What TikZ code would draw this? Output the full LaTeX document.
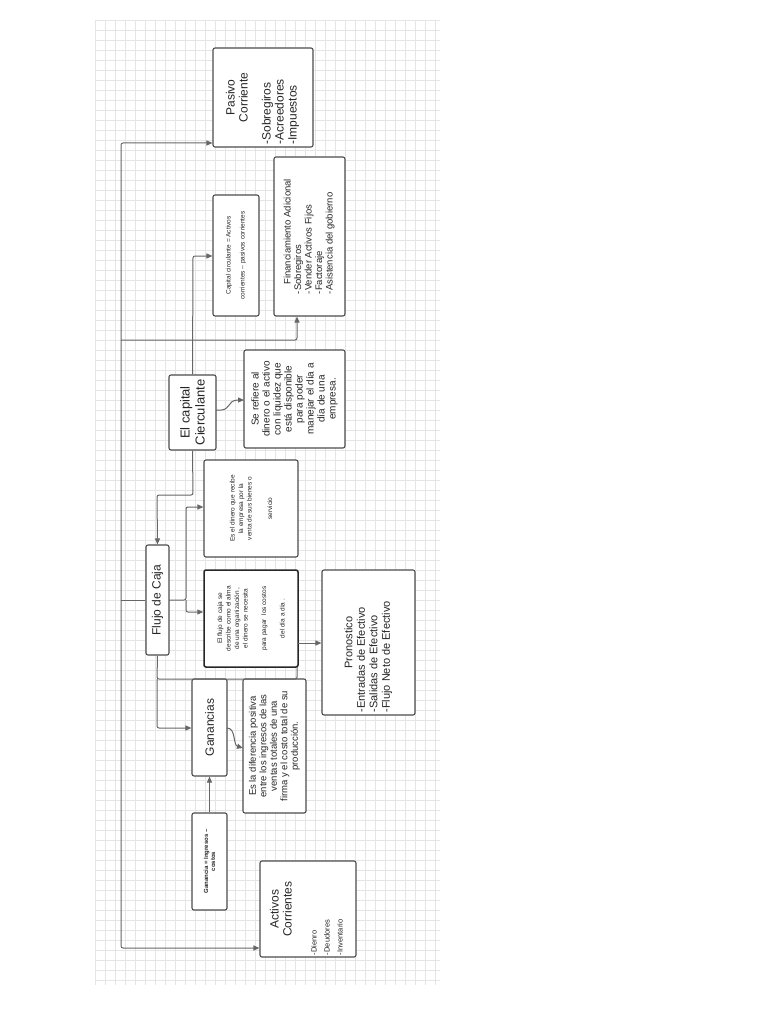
\documentclass[tikz,border=0pt]{standalone}
\usepackage{fontspec}
\setmainfont{Liberation Sans}
\usetikzlibrary{arrows.meta}
\begin{document}
\begin{tikzpicture}[x=1pt,y=-1pt,
  box/.style={draw=black!70,line width=1.1pt,rounded corners=2pt,rotate=90,inner sep=1pt,align=center,fill=white,text=black!85},
  con/.style={draw=black!60,line width=1pt,-{Triangle[length=6pt,width=5pt]}},
  ln/.style={draw=black!60,line width=1pt}]
\fill[white] (0,0) rectangle (768,1024);
\foreach \x in {95,105,...,435} \draw[black!10,line width=0.4pt] (\x,20) -- (\x,985);
\foreach \y in {20,30,...,980} \draw[black!10,line width=0.4pt] (95,\y) -- (440,\y);
\useasboundingbox (0,0) rectangle (768,1024);
% nodes
\node[box,minimum width=99,minimum height=100,font=\fontsize{12}{13}\selectfont] (pas) at (263,97.5)
 {\begin{tabular}{@{}p{94pt}@{}}\multicolumn{1}{@{}c@{}}{Pasivo}\\\multicolumn{1}{@{}c@{}}{Corriente}\\[10pt]-Sobregiros\\-Acreedores\\-Impuestos\end{tabular}};
\node[box,minimum width=121,minimum height=46,font=\fontsize{6.5}{14}\selectfont] (cc) at (236,255.5)
 {Capital circulante = Activos\\corrientes -- pasivos corrientes};
\node[box,minimum width=159,minimum height=71,font=\fontsize{9.5}{10.5}\selectfont] (fin) at (309.5,236.5)
 {\begin{tabular}{@{}l@{}}\quad Financiamiento Adicional\\-Sobregiros\\-Vender Activos Fijos\\-Factoraje\\-Asistencia del gobierno\end{tabular}};
\node[box,minimum width=75,minimum height=47,font=\fontsize{13}{15}\selectfont] (ec) at (192.5,412.5)
 {El capital\\Cierculante};
\node[box,minimum width=98,minimum height=101,font=\fontsize{10}{11}\selectfont] (sr) at (294.5,399)
 {Se refiere al\\dinero o el activo\\con liquidez que\\está disponible\\para poder\\manejar el día a\\día de una\\empresa.};
\node[box,minimum width=97,minimum height=94,font=\fontsize{6.5}{8.5}\selectfont] (ed) at (251,508.5)
 {Es el dinero que recibe\\la empresa por la\\venta de sus bienes o\\[12pt]servicio};
\node[box,minimum width=110,minimum height=23,font=\fontsize{12}{13}\selectfont] (fc) at (157.5,600)
 {Flujo de Caja};
\node[box,line width=1.5pt,draw=black!85,minimum width=97,minimum height=94,font=\fontsize{6.5}{8.5}\selectfont] (ef) at (251,618.5)
 {El flujo de caja se\\describe como el alma\\de una organización ,\\el dinero se necesita\\[10pt]para pagar~ los costos\\[10pt]del día a día .};
\node[box,minimum width=145,minimum height=93,font=\fontsize{11}{12.5}\selectfont] (pr) at (368.5,642.5)
 {\begin{tabular}{@{}p{140pt}@{}}\multicolumn{1}{@{}c@{}}{Pronostico}\\-Entradas de Efectivo\\-Salidas de Efectivo\\-Flujo Neto de Efectivo\end{tabular}};
\node[box,minimum width=97,minimum height=35,font=\fontsize{12}{13}\selectfont] (ga) at (209.5,727.5)
 {Ganancias};
\node[box,minimum width=134,minimum height=63,font=\fontsize{9.5}{10.5}\selectfont] (dif) at (274.5,746)
 {Es la diferencia positiva\\entre los ingresos de las\\ventas totales de una\\firma y el costo total de su\\producción.};
\node[box,minimum width=97,minimum height=35,font=\bfseries\fontsize{6}{7}\selectfont] (geq) at (209.5,861.5)
 {Ganancia = Ingresos --\\costos};
\node[box,minimum width=96,minimum height=96,font=\fontsize{12}{13}\selectfont] (ac) at (308,909)
 {\begin{tabular}{@{}p{92pt}@{}}\multicolumn{1}{@{}c@{}}{Activos}\\\multicolumn{1}{@{}c@{}}{Corrientes}\\[12pt]\fontsize{7.5}{8.5}\selectfont -Dienro\\\fontsize{7.5}{8.5}\selectfont -Deudores\\\fontsize{7.5}{8.5}\selectfont -Inventario\end{tabular}};
% connectors
\coordinate (L) at (121,600);
\draw[ln] (fc.north) -- (L);
\draw[con,rounded corners=2pt] (L) -- (121,143) -- (pas.north|-0,143);
\draw[con,rounded corners=2pt] (L) -- (121,948) -- (ac.north|-0,948);
\draw[con,rounded corners=2pt] (121,340) -- (297,340) -- (fin.west-|297,0);
\draw[con,rounded corners=2pt] (ec.east) -- (193,256) -- (cc.north|-0,256);
\draw[con,rounded corners=2pt] (ec.west) -- (193,495) -- (157,495) -- (fc.east);
\draw[con,rounded corners=2pt] (169,600) -- (186,600) -- (186,507) -- (ed.north|-0,507);
\draw[con,rounded corners=2pt] (186,600) -- (186,612) -- (ef.north|-0,612);
\draw[con] (298,643) -- (pr.north|-0,643);
\draw[ln,rounded corners=2pt] (fc.west) -- (157,679) -- (297,679) -- (297,667);
\draw[con,rounded corners=2pt] (157,679) -- (157,728) -- (ga.north|-0,728);
\draw[con] (227,728) .. controls (236,728) and (233,745) .. (243,748);
\draw[con] (216,410) .. controls (232,412) and (226,400) .. (244,400);
\draw[con] (geq.east) -- (ga.west);
\end{tikzpicture}
\end{document}
